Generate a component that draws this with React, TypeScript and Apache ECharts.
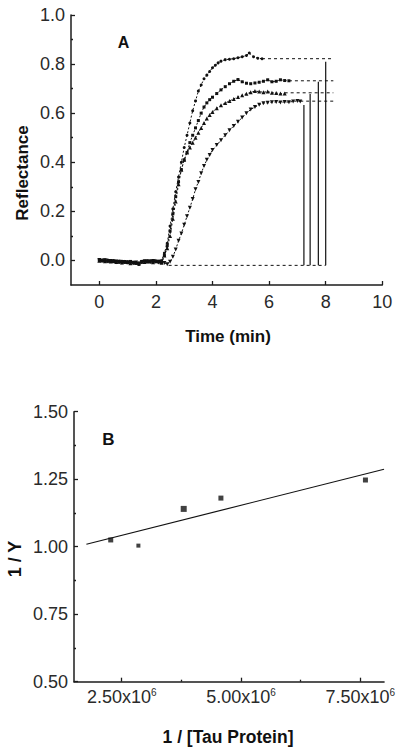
import React, { useEffect, useRef } from "react";
import * as echarts from "echarts";

// ---------- Panel A data (Time in min, Reflectance) ----------
const curve1: [number, number][] = [
  [0, 0.003], [0.1, 0.001], [0.2, -0.002], [0.3, 0.002], [0.4, -0.003], [0.5, -0.001], [0.6, -0.004], [0.7, -0.006],
  [0.8, -0.003], [0.9, -0.007], [1.0, -0.005], [1.1, -0.008], [1.2, -0.01], [1.3, -0.009], [1.4, -0.016], [1.5, -0.006],
  [1.6, -0.003], [1.7, -0.005], [1.8, -0.001], [1.9, -0.004], [2.0, -0.002], [2.1, -0.006], [2.2, -0.001],
  [2.3, 0.03], [2.4, 0.07], [2.5, 0.14], [2.6, 0.21], [2.7, 0.28], [2.8, 0.34], [2.9, 0.4], [3.0, 0.46], [3.1, 0.51],
  [3.2, 0.56], [3.3, 0.61], [3.4, 0.65], [3.5, 0.69], [3.6, 0.715], [3.7, 0.74], [3.8, 0.755], [3.9, 0.77], [4.0, 0.785],
  [4.1, 0.795], [4.2, 0.805], [4.3, 0.812], [4.45, 0.818], [4.6, 0.82], [4.75, 0.822], [4.9, 0.826], [5.05, 0.83],
  [5.2, 0.835], [5.3, 0.845], [5.45, 0.83], [5.6, 0.824], [5.75, 0.822],
];
const curve2: [number, number][] = [
  [0, 0.001], [0.1, -0.002], [0.2, 0.002], [0.3, -0.003], [0.4, -0.001], [0.5, -0.005], [0.6, -0.002], [0.7, -0.007],
  [0.8, -0.004], [0.9, -0.006], [1.0, -0.009], [1.1, -0.004], [1.2, -0.008], [1.3, -0.012], [1.4, -0.01], [1.5, -0.004],
  [1.6, -0.002], [1.7, -0.006], [1.8, -0.003], [1.9, -0.001], [2.0, -0.005], [2.1, -0.003], [2.2, -0.008],
  [2.3, 0.02], [2.4, 0.06], [2.5, 0.12], [2.6, 0.19], [2.7, 0.26], [2.8, 0.32], [2.9, 0.37], [3.0, 0.41], [3.1, 0.44],
  [3.2, 0.48], [3.3, 0.51], [3.4, 0.54], [3.5, 0.57], [3.6, 0.6], [3.7, 0.625], [3.8, 0.642], [3.9, 0.655], [4.0, 0.665],
  [4.15, 0.68], [4.3, 0.695], [4.45, 0.708], [4.6, 0.72], [4.75, 0.73], [4.9, 0.737], [5.05, 0.728], [5.2, 0.722],
  [5.35, 0.72], [5.5, 0.723], [5.65, 0.726], [5.8, 0.73], [5.95, 0.736], [6.1, 0.728], [6.25, 0.73], [6.4, 0.736],
  [6.55, 0.733], [6.7, 0.732],
];
const curve3: [number, number][] = [
  [0, -0.001], [0.1, 0.002], [0.2, -0.003], [0.3, 0.0], [0.4, -0.004], [0.5, -0.002], [0.6, -0.006], [0.7, -0.003],
  [0.8, -0.008], [0.9, -0.005], [1.0, -0.006], [1.1, -0.011], [1.2, -0.007], [1.3, -0.009], [1.4, -0.012], [1.5, -0.005],
  [1.6, -0.006], [1.7, -0.002], [1.8, -0.004], [1.9, -0.007], [2.0, -0.001], [2.1, -0.004], [2.2, -0.009],
  [2.3, 0.02], [2.4, 0.05], [2.5, 0.1], [2.6, 0.17], [2.7, 0.24], [2.8, 0.31], [2.9, 0.37], [3.0, 0.41], [3.1, 0.44],
  [3.2, 0.46], [3.3, 0.48], [3.4, 0.5], [3.5, 0.52], [3.6, 0.54], [3.7, 0.56], [3.8, 0.578], [3.9, 0.593], [4.0, 0.605],
  [4.15, 0.62], [4.3, 0.632], [4.45, 0.641], [4.6, 0.65], [4.75, 0.658], [4.9, 0.666], [5.05, 0.673], [5.2, 0.679],
  [5.35, 0.685], [5.5, 0.69], [5.65, 0.688], [5.8, 0.685], [5.95, 0.688], [6.1, 0.683], [6.25, 0.682], [6.4, 0.68],
  [6.55, 0.68],
];
const curve4: [number, number][] = [
  [0, 0.002], [0.1, -0.001], [0.2, 0.001], [0.3, -0.004], [0.4, -0.002], [0.5, -0.003], [0.6, -0.007], [0.7, -0.005],
  [0.8, -0.009], [0.9, -0.006], [1.0, -0.008], [1.1, -0.006], [1.2, -0.011], [1.3, -0.008], [1.4, -0.014], [1.5, -0.007],
  [1.6, -0.004], [1.7, -0.003], [1.8, -0.006], [1.9, -0.002], [2.0, -0.005], [2.1, -0.008], [2.2, -0.004], [2.3, -0.01],
  [2.4, -0.015], [2.5, -0.005], [2.6, 0.015], [2.7, 0.045], [2.8, 0.08], [2.9, 0.11], [3.0, 0.145], [3.1, 0.18],
  [3.2, 0.215], [3.3, 0.25], [3.4, 0.29], [3.5, 0.32], [3.6, 0.355], [3.7, 0.385], [3.8, 0.41], [3.9, 0.43], [4.0, 0.45],
  [4.15, 0.47], [4.3, 0.49], [4.45, 0.51], [4.6, 0.53], [4.75, 0.548], [4.9, 0.565], [5.05, 0.582], [5.2, 0.6],
  [5.35, 0.615], [5.5, 0.625], [5.65, 0.634], [5.8, 0.64], [5.95, 0.642], [6.1, 0.645], [6.25, 0.646], [6.4, 0.644],
  [6.55, 0.646], [6.7, 0.645], [6.85, 0.648], [7.0, 0.65], [7.1, 0.648],
];
const curves = [curve1, curve2, curve3, curve4];
const curveSymbols = ["circle", "rect", "triangle", "triangle"];
const curveSymbolRotate = [0, 0, 0, 180];
const curveSymbolSize = [3, 3, 4, 4];

// plateau extensions (dashed), vertical drops (solid), baseline (dashed)
const extStartT = [5.75, 6.7, 6.55, 7.1];
const extLevel = [0.822, 0.732, 0.683, 0.649];
const extEndT = 8.27;
const dropT = [8.0, 7.74, 7.45, 7.23];
const dropTop = [0.81, 0.728, 0.678, 0.633];
const baseLevel = -0.02;
const baseStartT = 2.45;
const baseEndT = 8.0;

const xTicksA = [0, 2, 4, 6, 8, 10];
const yTicksA = [0, 0.2, 0.4, 0.6, 0.8, 1.0];
const yMinorA = [0.1, 0.3, 0.5, 0.7, 0.9];

// ---------- Panel B data (1/[Tau Protein], 1/Y) ----------
const bX = [2.27e6, 2.85e6, 3.8e6, 4.58e6, 7.61e6];
const bY = [1.025, 1.004, 1.14, 1.18, 1.247];
const bSize = [5, 4, 6, 5, 5];
const fitX = [1.76e6, 8.0e6];
const fitY = [1.009, 1.287];
const xTicksB = [2.5e6, 5.0e6, 7.5e6];
const xMinorB = [3.75e6, 6.25e6];

const FONT = "'Liberation Sans', Arial, sans-serif";
const INK = "#1c1c1c";

export default function App() {
  const ref = useRef<HTMLDivElement>(null);
  useEffect(() => {
    document.body.style.margin = "0";
    const chart = echarts.init(ref.current!, undefined, { renderer: "svg" });
    const axisLine = { onZero: false, lineStyle: { color: INK, width: 1.5 } };
    const tickStyle = { color: INK, width: 1.3 };
    const label = { color: "#2a2a2a", fontSize: 18, fontFamily: FONT };

    const series: any[] = [];
    curves.forEach((c, i) => {
      series.push({
        type: "line",
        xAxisIndex: 0,
        yAxisIndex: 0,
        data: c,
        symbol: curveSymbols[i],
        symbolRotate: curveSymbolRotate[i],
        symbolSize: curveSymbolSize[i],
        itemStyle: { color: "#111" },
        lineStyle: { color: "#111", width: 1, type: [2, 2] },
        z: 3,
      });
      series.push({
        type: "line",
        xAxisIndex: 0,
        yAxisIndex: 0,
        data: [
          [extStartT[i], extLevel[i]],
          [extEndT, extLevel[i]],
        ],
        showSymbol: false,
        lineStyle: { color: "#111", width: 1, type: [3, 3] },
      });
      series.push({
        type: "line",
        xAxisIndex: 0,
        yAxisIndex: 0,
        data: [
          [dropT[i], dropTop[i]],
          [dropT[i], baseLevel],
        ],
        showSymbol: false,
        lineStyle: { color: "#111", width: 1.2 },
      });
    });
    series.push({
      type: "line",
      xAxisIndex: 0,
      yAxisIndex: 0,
      data: [
        [baseStartT, baseLevel],
        [baseEndT, baseLevel],
      ],
      showSymbol: false,
      lineStyle: { color: "#111", width: 1, type: [3, 3] },
    });
    series.push({
      type: "line",
      xAxisIndex: 1,
      yAxisIndex: 2,
      data: fitX.map((x, i) => [x, fitY[i]]),
      showSymbol: false,
      lineStyle: { color: "#111", width: 1.2 },
    });
    series.push({
      type: "scatter",
      xAxisIndex: 1,
      yAxisIndex: 2,
      data: bX.map((x, i) => ({ value: [x, bY[i]], symbolSize: bSize[i] })),
      symbol: "rect",
      itemStyle: { color: "#111" },
      z: 4,
    });

    chart.setOption({
      animation: false,
      backgroundColor: "#fff",
      grid: [
        { left: 71, top: 15, width: 311.3, height: 270 },
        { left: 74, top: 411.7, width: 312.4, height: 270 },
      ],
      xAxis: [
        {
          gridIndex: 0,
          type: "value",
          position: "bottom",
          min: -1,
          max: 10,
          axisLine,
          axisTick: { inside: true, length: 4, customValues: xTicksA, lineStyle: tickStyle },
          axisLabel: { ...label, customValues: xTicksA, margin: 8 },
          splitLine: { show: false },
        },
        {
          gridIndex: 1,
          type: "value",
          position: "bottom",
          min: 1.5e6,
          max: 8e6,
          axisLine,
          axisTick: { inside: true, length: 4, customValues: xTicksB, lineStyle: tickStyle },
          axisLabel: {
            ...label,
            customValues: xTicksB,
            margin: 6,
            formatter: (v: number) => (v / 1e6).toFixed(2) + "x10{sup|6}",
            rich: {
              sup: { fontSize: 10, fontFamily: FONT, color: "#2a2a2a", padding: [0, 0, 9, 0] },
            },
          },
          splitLine: { show: false },
        },
        {
          gridIndex: 1,
          type: "value",
          position: "bottom",
          min: 1.5e6,
          max: 8e6,
          axisLine: { show: false, onZero: false },
          axisTick: { inside: true, length: 2, customValues: xMinorB, lineStyle: tickStyle },
          axisLabel: { show: false },
          splitLine: { show: false },
        },
      ],
      yAxis: [
        {
          gridIndex: 0,
          type: "value",
          position: "left",
          min: -0.1,
          max: 1.0,
          axisLine,
          axisTick: { inside: true, length: 4, customValues: yTicksA, lineStyle: tickStyle },
          axisLabel: { ...label, customValues: yTicksA, margin: 6, formatter: (v: number) => v.toFixed(1) },
          splitLine: { show: false },
        },
        {
          gridIndex: 0,
          type: "value",
          position: "left",
          min: -0.1,
          max: 1.0,
          axisLine: { show: false, onZero: false },
          axisTick: { inside: true, length: 2, customValues: yMinorA, lineStyle: tickStyle },
          axisLabel: { show: false },
          splitLine: { show: false },
        },
        {
          gridIndex: 1,
          type: "value",
          position: "left",
          min: 0.5,
          max: 1.5,
          interval: 0.25,
          axisLine,
          axisTick: { inside: true, length: 4, lineStyle: tickStyle },
          minorTick: { show: true, splitNumber: 2, length: 2, lineStyle: tickStyle },
          axisLabel: { ...label, margin: 6, formatter: (v: number) => v.toFixed(2) },
          splitLine: { show: false },
        },
      ],
      graphic: [
        {
          type: "text",
          x: 22.5,
          y: 173,
          rotation: Math.PI / 2,
          style: {
            text: "Reflectance",
            font: `bold 17px ${FONT}`,
            fill: "#111",
            align: "center",
            verticalAlign: "middle",
          },
        },
        {
          type: "text",
          x: 228,
          y: 336.7,
          style: { text: "Time (min)", font: `bold 17px ${FONT}`, fill: "#111", align: "center", verticalAlign: "middle" },
        },
        {
          type: "text",
          x: 123.5,
          y: 42.5,
          style: { text: "A", font: `bold 16px ${FONT}`, fill: "#111", align: "center", verticalAlign: "middle" },
        },
        {
          type: "text",
          x: 108.5,
          y: 439.5,
          style: { text: "B", font: `bold 17px ${FONT}`, fill: "#111", align: "center", verticalAlign: "middle" },
        },
        {
          type: "text",
          x: 15,
          y: 559,
          rotation: Math.PI / 2,
          style: { text: "1 / Y", font: `bold 18px ${FONT}`, fill: "#111", align: "center", verticalAlign: "middle" },
        },
        {
          type: "text",
          x: 228,
          y: 737,
          style: {
            text: "1 / [Tau Protein]",
            font: `bold 17.5px ${FONT}`,
            fill: "#111",
            align: "center",
            verticalAlign: "middle",
          },
        },
      ],
      series,
    });
    return () => chart.dispose();
  }, []);
  return <div ref={ref} style={{ position: "absolute", left: 0, top: 0, width: 398, height: 749 }} />;
}
